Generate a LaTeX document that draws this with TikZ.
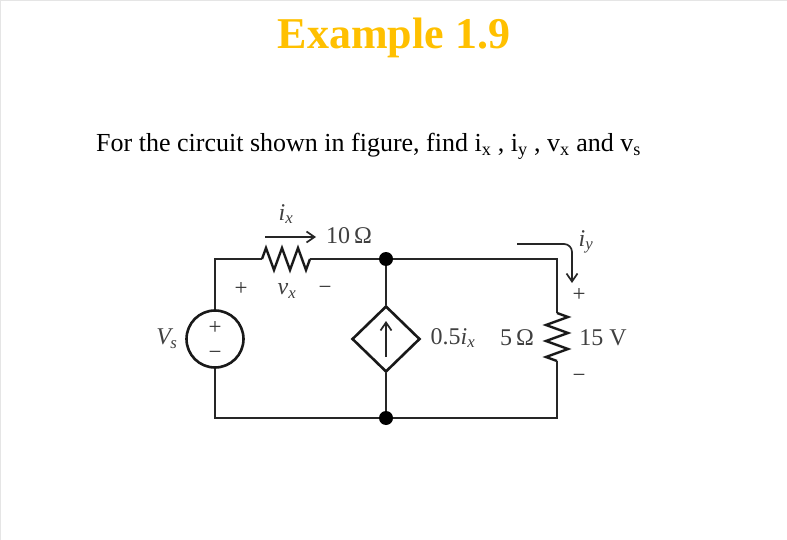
\documentclass[tikz,border=0pt]{standalone}
\usepackage{fontspec}
\setmainfont{Liberation Serif}
\usepackage{tikz}
\usetikzlibrary{calc,decorations.pathmorphing,shapes.geometric,arrows.meta}
\definecolor{titlegold}{RGB}{255,192,0}
\newcommand{\symsub}[2]{\textit{#1}\textsubscript{\textit{#2}}}
\tikzset{
  wire/.style={line width=1.9pt,color=black!85},
  cur/.style={line width=1.7pt,color=black!85,-{Straight Barb[length=8pt,width=11pt]}},
  res/.style={line width=2.4pt,color=black!90,decorate,decoration={zigzag,segment length=16pt,amplitude=11pt}},
  dotnode/.style={circle,fill=black,minimum width=14pt,inner sep=0pt},
  lbl/.style={font=\fontsize{24}{26}\selectfont,color=black!75,inner sep=0pt},
  sign/.style={font=\fontsize{23}{25}\selectfont,color=black!80,inner sep=0pt}
}
\begin{document}
\begin{tikzpicture}[x=1pt,y=-1pt]
\useasboundingbox (0,0) rectangle (787,540);
\draw[black!10,line width=1.5pt] (0,540) -- (0,0) -- (787,0);
\node[font=\bfseries\fontsize{44}{48}\selectfont,color=titlegold,inner sep=0pt,anchor=base] (title) at (394,49){Example 1.9};
\node[font=\fontsize{26}{30}\selectfont,anchor=base west,inner sep=0pt] (task) at (96,152){For the circuit shown in figure, find i\textsubscript{x} , i\textsubscript{y} , v\textsubscript{x} and v\textsubscript{s}};
\coordinate (tl) at (215,259);
\coordinate (bl) at (215,418);
\coordinate (tr) at (557,259);
\coordinate (br) at (557,418);
\coordinate (r1a) at (262,259);
\coordinate (r1b) at (310,259);
\coordinate (r2a) at (557,313);
\coordinate (r2b) at (557,361);
\node[dotnode] (d1) at (386,259){};
\node[dotnode] (d2) at (386,418){};
\node[circle,draw,line width=2.6pt,color=black!90,minimum width=57pt,inner sep=0pt] (vs) at (215,339){};
\node[diamond,draw,line width=2.6pt,color=black!90,minimum width=68pt,minimum height=66pt,inner sep=0pt] (cs) at (386,339){};
\draw[wire] (vs) -- (tl) -- (r1a);
\draw[res] (r1a) -- (r1b);
\draw[wire] (r1b) -- (d1) -- (tr) -- (r2a);
\draw[res] (r2a) -- (r2b);
\draw[wire] (r2b) -- (br) -- (d2) -- (bl) -- (vs);
\draw[wire] (d1) -- (cs);
\draw[wire] (cs) -- (d2);
\coordinate (a1) at (386,357);
\coordinate (a2) at (386,321);
\draw[cur] (a1) -- (a2);
\coordinate (ixa) at (265,237);
\coordinate (ixb) at (316,237);
\draw[cur] (ixa) -- (ixb);
\coordinate (iya) at (517,244);
\coordinate (iyb) at (572,283);
\draw[cur,rounded corners=8pt] (iya) -| (iyb);
\node[lbl] (lix) at (286,214){\symsub{i}{x}};
\node[lbl] (lr1) at (349,236){10\,Ω};
\node[lbl] (lvx) at (287,291){\symsub{v}{x}};
\node[sign] (vp) at (241,289){+};
\node[sign] (vm) at (325,290){−};
\node[lbl] (lvs) at (167,339){\textit{V}\kern-3pt\textsubscript{\textit{s}}};
\node[sign] (sp) at (215,328){+};
\node[sign] (sm) at (215,355){−};
\node[lbl] (lcs) at (453,338){0.5\symsub{i}{x}};
\node[lbl] (lr2) at (517,338){5\,Ω};
\node[lbl] (l15) at (603,338){15 V};
\node[sign] (rp) at (579,295){+};
\node[sign] (rm) at (579,378){−};
\node[lbl] (liy) at (586,242){\symsub{i}{y}};
\end{tikzpicture}
\end{document}
